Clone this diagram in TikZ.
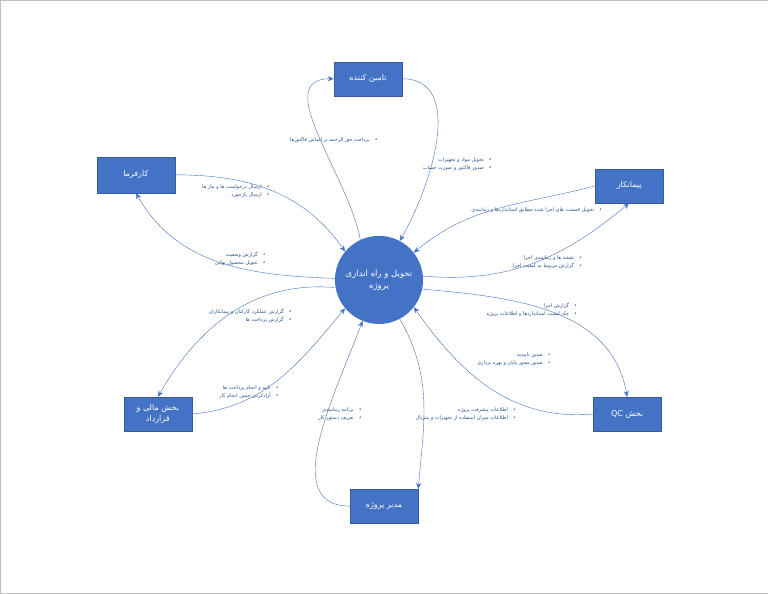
\documentclass[tikz,border=0pt]{standalone}
\usepackage{fontspec}
\newfontfamily\fafont[Script=Arabic]{DejaVu Sans}
\usepackage{tikz}
\usetikzlibrary{calc,arrows.meta}
\definecolor{sblue}{HTML}{4472C4}
\TeXXeTstate=1
\newcommand{\fa}[1]{{\fafont\beginR #1\endR}}
\newcommand{\blt}[2]{\fa{\textbullet\quad #1}\\[2pt]\fa{\textbullet\quad #2}}
\begin{document}
\begin{tikzpicture}[x=1pt,y=-1pt,
    ENT/.style={draw=sblue!80!black,fill=sblue,text=white,minimum width=68pt,minimum height=34pt,inner sep=2pt,font=\fontsize{8}{11}\selectfont,align=center},
    LBL/.style={text=sblue!70!black,font=\fontsize{5}{6}\selectfont,align=right,inner sep=0pt},
    AR/.style={-{Stealth[length=6pt,width=5pt]},draw=sblue,thin}]
    % page frame
    \draw[black!25,fill=white] (0.5,0.5) rectangle (767.5,593.5);
    % central process
    \node[circle,fill=sblue,text=white,minimum size=88pt,font=\fontsize{8.5}{12}\selectfont,align=center] (proj) at (379,280) {\fa{تحویل و راه اندازی}\\\fa{پروژه}};
    % entities
    \node[ENT] (tamin) at (368,79) {\fa{تامین کننده}};
    \node[ENT,minimum width=78pt,minimum height=36pt] (karfarma) at (136,175) {\fa{کارفرما}};
    \node[ENT] (peyman) at (629,186) {\fa{پیمانکار}};
    \node[ENT] (qc) at (627,414) {\fa{بخش QC}};
    \node[ENT] (modir) at (384,506) {\fa{مدیر پروژه}};
    \node[ENT] (mali) at (158,414) {\fa{بخش مالی و}\\\fa{قرارداد}};
    % flows
    \draw[AR] (proj.115) to[out=100,in=180] (tamin.west);
    \draw[AR] (tamin.east) to[out=0,in=60] (proj.62);
    \draw[AR] (proj.178) to[out=178,in=-60] (karfarma.south);
    \draw[AR] (karfarma.east) to[out=0,in=125] (proj.140);
    \draw[AR] (peyman.west) to[out=195,in=40] (proj.38);
    \draw[AR] (proj.5) to[out=-5,in=-140] (peyman.south);
    \draw[AR] (proj.-12) to[out=-5,in=100] (qc.north);
    \draw[AR] (qc.west) to[out=185,in=-55] (proj.-38);
    \draw[AR] (proj.-62) to[out=-60,in=85] (modir.north east);
    \draw[AR] (modir.west) to[out=180,in=-110] (proj.-112);
    \draw[AR] (proj.190) to[out=175,in=60] (mali.north);
    \draw[AR] (mali.east) to[out=5,in=-130] (proj.-140);
    % labels
    \node[LBL,anchor=east] (l1) at (378,140) {\fa{\textbullet\quad پرداخت حق الزحمه بر اساس فاکتورها}};
    \node[LBL,anchor=east] (l2) at (492,164) {\blt{تحویل مواد و تجهیزات}{صدور فاکتور و صورت حساب}};
    \node[LBL,anchor=east] (l3) at (270,191) {\blt{ارسال درخواست ها و نیاز ها}{ارسال بازخورد}};
    \node[LBL,anchor=east] (l4) at (266,259) {\blt{گزارش وضعیت}{تحویل محصول نهایی}};
    \node[LBL,anchor=east] (l5) at (602,210) {\fa{\textbullet\quad تحویل قسمت های اجرا شده مطابق استانداردها و زمانبندی}};
    \node[LBL,anchor=east] (l6) at (582,262) {\blt{نقشه ها و زمانبندی اجرا}{گزارش مربوط به کیفیت اجرا}};
    \node[LBL,anchor=east] (l7) at (577,310) {\blt{گزارش اجرا}{چک لیست استانداردها و اطلاعات پروژه}};
    \node[LBL,anchor=east] (l8) at (551,359) {\blt{صدور تاییدیه}{صدور مجوز پایان و بهره برداری}};
    \node[LBL,anchor=east] (l9) at (516,414) {\blt{اطلاعات پیشرفت پروژه}{اطلاعات میزان استفاده از تجهیزات و متریال}};
    \node[LBL,anchor=east] (l10) at (362,414) {\blt{برنامه زمانبندی}{تعریف دستور کار}};
    \node[LBL,anchor=east] (l11) at (292,316) {\blt{گزارش عملکرد کارکنان و پیمانکاران}{گزارش پرداخت ها}};
    \node[LBL,anchor=east] (l12) at (279,392) {\blt{تایید و انجام پرداخت ها}{آزادکردن حسن انجام کار}};
\end{tikzpicture}
\end{document}
